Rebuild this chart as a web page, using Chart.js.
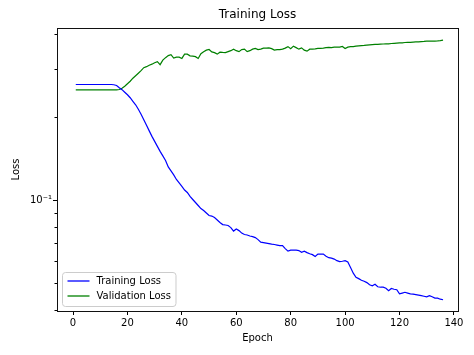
<!DOCTYPE html>
<html><head><meta charset="utf-8">
<script src="https://cdn.jsdelivr.net/npm/chart.js@4"></script>
<style>html,body{margin:0;padding:0;background:#fff}#wrap{width:474px;height:355px;position:relative}</style>
</head><body><div id="wrap"><canvas id="c"></canvas></div>
<script>
const epochs = [1,2,3,4,5,6,7,8,9,10,11,12,13,14,15,16,17,18,19,20,21,22,23,24,25,26,27,28,29,30,31,32,33,34,35,36,37,38,39,40,41,42,43,44,45,46,47,48,49,50,51,52,53,54,55,56,57,58,59,60,61,62,63,64,65,66,67,68,69,70,71,72,73,74,75,76,77,78,79,80,81,82,83,84,85,86,87,88,89,90,91,92,93,94,95,96,97,98,99,100,101,102,103,104,105,106,107,108,109,110,111,112,113,114,115,116,117,118,119,120,121,122,123,124,125,126,127,128,129,130,131,132,133,134,135,136];
const trainingLoss = [
0.2626,0.2626,0.2626,0.2626,0.2626,0.2626,0.2626,0.2626,0.2626,0.2626,0.2626,0.2626,0.2626,0.2626,
0.2621,0.2604,0.2557,0.2515,0.2462,0.2411,
0.2351,0.2283,0.2217,0.2135,0.2048,0.1956,0.1867,0.1783,0.1703,0.1633,
0.1566,0.1502,0.1447,0.1393,0.1319,0.1276,0.1234,0.1188,0.1154,0.1121,
0.1088,0.1066,0.1031,0.1005,0.0980,0.0956,0.0932,0.0917,0.0898,0.0879,
0.0875,0.0864,0.0847,0.0829,0.0815,0.0812,0.0809,0.0795,0.0772,0.0785,
0.0775,0.0759,0.0750,0.0747,0.0741,0.0737,0.0731,0.0719,0.0704,0.0701,
0.0698,0.0695,0.0692,0.0690,0.0687,0.0684,0.0684,0.0667,0.0653,0.0658,
0.0658,0.0658,0.0656,0.0647,0.0653,0.0645,0.0639,0.0634,0.0624,0.0637,
0.0637,0.0637,0.0626,0.0618,0.0616,0.0611,0.0603,0.0598,0.0600,0.0603,
0.0596,0.0569,0.0543,0.0525,0.0519,0.0512,0.0508,0.0502,0.0493,0.0489,
0.0495,0.0485,0.0483,0.0483,0.0479,0.0469,0.0478,0.0475,0.0473,0.0457,
0.0460,0.0463,0.0460,0.0457,0.0456,0.0454,0.0452,0.0450,0.0448,0.0446,
0.0450,0.0446,0.0441,0.0441,0.0437,0.0435];
const validationLoss = [
0.2510,0.2510,0.2510,0.2510,0.2510,0.2510,0.2510,0.2510,0.2510,0.2510,0.2510,0.2510,0.2510,0.2510,0.2510,0.2510,
0.2518,0.2545,0.2588,0.2643,
0.2699,0.2768,0.2826,0.2886,0.2947,0.3022,0.3048,0.3086,0.3112,0.3151,
0.3178,0.3099,0.3218,0.3286,0.3342,0.3370,0.3273,0.3300,0.3300,0.3265,
0.3384,0.3384,0.3336,0.3327,0.3314,0.3265,0.3398,0.3455,0.3499,0.3519,
0.3449,0.3426,0.3384,0.3440,0.3432,0.3426,0.3455,0.3484,0.3528,0.3484,
0.3455,0.3514,0.3528,0.3455,0.3484,0.3528,0.3549,0.3514,0.3528,0.3558,
0.3558,0.3567,0.3543,0.3499,0.3514,0.3514,0.3528,0.3558,0.3603,0.3543,
0.3618,0.3573,0.3528,0.3567,0.3499,0.3470,0.3528,0.3528,0.3537,0.3549,
0.3549,0.3558,0.3573,0.3579,0.3573,0.3588,0.3588,0.3588,0.3609,0.3549,
0.3588,0.3603,0.3603,0.3618,0.3627,0.3634,0.3640,0.3649,0.3659,0.3664,
0.3670,0.3674,0.3680,0.3683,0.3686,0.3689,0.3698,0.3704,0.3711,0.3717,
0.3720,0.3729,0.3736,0.3736,0.3742,0.3748,0.3751,0.3757,0.3763,0.3773,
0.3773,0.3773,0.3773,0.3780,0.3789,0.3805];
const xTicks = [0,20,40,60,80,100,120,140];
const yMajorTicks = [0.1];
const yMinorTicks = [0.04,0.05,0.06,0.07,0.08,0.09,0.2,0.3,0.4];

const FONT = '"DejaVu Sans", "Liberation Sans", sans-serif';
Chart.defaults.font.family = FONT;
Chart.defaults.color = '#000';

const framePlugin = {
  id: 'frame',
  afterDraw(chart) {
    const ctx = chart.ctx, ca = chart.chartArea;
    ctx.save();
    // y ticks (major longer than minor)
    const ys = chart.scales.y;
    ctx.strokeStyle = '#000'; ctx.lineWidth = 1;
    ys.ticks.forEach(t => {
      const py = Math.round(ys.getPixelForValue(t.value)) + 0.5;
      const len = yMajorTicks.includes(t.value) ? 4 : 2.5;
      ctx.beginPath(); ctx.moveTo(Math.round(ca.left) - len, py); ctx.lineTo(Math.round(ca.left), py); ctx.stroke();
    });
    // spines
    ctx.strokeStyle = '#111';
    ctx.strokeRect(Math.round(ca.left) + 0.5, Math.round(ca.top) + 0.5,
      Math.round(ca.right) - Math.round(ca.left), Math.round(ca.bottom) - Math.round(ca.top));
    // legend inside lower-left
    ctx.font = '10px ' + FONT;
    const ds = chart.data.datasets;
    const textW = Math.max(...ds.map(d => ctx.measureText(d.label).width));
    const lineLen = 22, padL = 5, gap = 7, padR = 5, rowH = 15;
    const w = padL + lineLen + gap + textW + padR;
    const h = 34;
    const x0 = Math.round(ca.left) + 5.5, y0 = Math.round(ca.bottom) - 4.5 - h;
    const r = 3;
    ctx.beginPath();
    ctx.moveTo(x0 + r, y0); ctx.lineTo(x0 + w - r, y0); ctx.arcTo(x0 + w, y0, x0 + w, y0 + r, r);
    ctx.lineTo(x0 + w, y0 + h - r); ctx.arcTo(x0 + w, y0 + h, x0 + w - r, y0 + h, r);
    ctx.lineTo(x0 + r, y0 + h); ctx.arcTo(x0, y0 + h, x0, y0 + h - r, r);
    ctx.lineTo(x0, y0 + r); ctx.arcTo(x0, y0, x0 + r, y0, r);
    ctx.closePath();
    ctx.fillStyle = 'rgba(255,255,255,0.8)'; ctx.fill();
    ctx.strokeStyle = '#cccccc'; ctx.lineWidth = 1; ctx.stroke();
    ds.forEach((d, i) => {
      const cy = y0 + 8.5 + i * rowH;
      ctx.strokeStyle = d.borderColor; ctx.lineWidth = 1.3;
      ctx.beginPath(); ctx.moveTo(x0 + padL, cy); ctx.lineTo(x0 + padL + lineLen, cy); ctx.stroke();
      ctx.fillStyle = '#000'; ctx.textBaseline = 'middle'; ctx.textAlign = 'left';
      ctx.fillText(d.label, x0 + padL + lineLen + gap, cy + 0.5);
    });
    ctx.restore();
  }
};

new Chart(document.getElementById('c'), {
  type: 'line',
  data: {
    datasets: [
      { label: 'Training Loss', data: epochs.map((e, i) => ({x: e, y: trainingLoss[i]})),
        borderColor: '#0000ff', borderWidth: 1.2, pointRadius: 0, tension: 0, fill: false },
      { label: 'Validation Loss', data: epochs.map((e, i) => ({x: e, y: validationLoss[i]})),
        borderColor: '#008000', borderWidth: 1.2, pointRadius: 0, tension: 0, fill: false }
    ]
  },
  options: {
    responsive: true, maintainAspectRatio: false, animation: false,
    layout: { padding: { left: 0, right: 16, top: 0, bottom: 0 } },
    plugins: {
      legend: { display: false },
      tooltip: { enabled: false },
      title: { display: true, text: 'Training Loss', fullSize: false, color: '#000',
        font: { family: FONT, size: 12, weight: 'normal' }, padding: { top: 8, bottom: 5.6 } }
    },
    scales: {
      x: {
        type: 'linear', min: -5.9, max: 141.5,
        afterBuildTicks: s => { s.ticks = xTicks.map(v => ({ value: v })); },
        afterFit: s => { s.height = 44; },
        ticks: { font: { family: FONT, size: 10 }, color: '#000', padding: 2, maxRotation: 0, autoSkip: false,
          callback: v => String(v) },
        grid: { drawOnChartArea: false, drawTicks: true, tickLength: 4, tickColor: '#000', tickWidth: 1 },
        border: { display: false },
        title: { display: true, text: 'Epoch', color: '#000', font: { family: FONT, size: 10 }, padding: { top: 0, bottom: 11 } }
      },
      y: {
        type: 'logarithmic', min: 0.0396, max: 0.421,
        afterBuildTicks: s => { s.ticks = [...yMinorTicks, ...yMajorTicks].sort((a, b) => a - b).map(v => ({ value: v })); },
        afterFit: s => { s.width = 57; },
        ticks: { font: { family: FONT, size: 10 }, color: '#000', padding: 5, autoSkip: false,
          callback: v => (yMajorTicks.includes(v) ? '10\u207B\u00B9' : '') },
        grid: { drawOnChartArea: false, drawTicks: false },
        border: { display: false },
        title: { display: true, text: 'Loss', color: '#000', font: { family: FONT, size: 10 }, padding: { top: 10, bottom: 0 } }
      }
    }
  },
  plugins: [framePlugin]
});
</script></body></html>
